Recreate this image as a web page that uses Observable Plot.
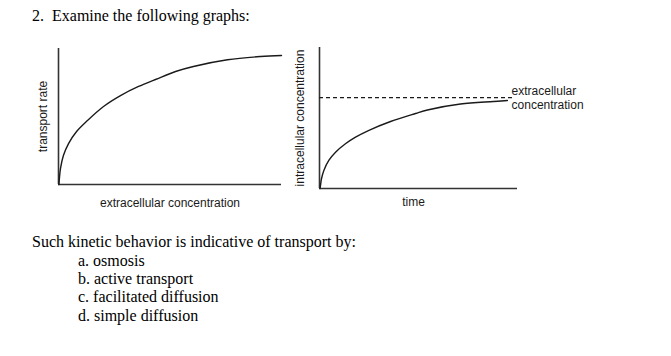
<!DOCTYPE html>
<html>
<head>
<meta charset="utf-8">
<script src="https://cdn.jsdelivr.net/npm/d3@7"></script>
<script src="https://cdn.jsdelivr.net/npm/@observablehq/plot@0.6"></script>
<style>
  html, body { margin: 0; padding: 0; background: #fff; }
  #root { position: relative; width: 671px; height: 356px; overflow: hidden; background: #fff; }
  .serif { font-family: "Liberation Serif", "Times New Roman", serif; font-size: 16px; line-height: 18.3px; color: #000; position: absolute; white-space: pre; }
  #title { left: 32px; top: 7.4px; }
  #question { left: 32px; top: 233.4px; }
  #question .item { margin-left: 46px; }
  .chart { position: absolute; }
  .chart svg { overflow: visible; }
</style>
</head>
<body>
<div id="root">
  <div id="title" class="serif"></div>
  <div id="left" class="chart" style="left:0px; top:40px;"></div>
  <div id="right" class="chart" style="left:285px; top:40px;"></div>
  <div id="question" class="serif"></div>
</div>
<script>
// ---- Data ----
// Left graph: transport rate vs extracellular concentration (arbitrary units 0-10)
const leftConc = [0.02, 0.04, 0.09, 0.22, 0.45, 0.81, 1.30, 2.02, 2.78, 3.59, 4.35, 5.25, 6.05, 7.58, 9.06, 10];
const leftRate = [0, 0.44, 1.18, 2.13, 3.01, 3.90, 4.71, 5.74, 6.54, 7.21, 7.72, 8.31, 8.68, 9.17, 9.41, 9.49];
// Right graph: intracellular concentration vs time (arbitrary units 0-10)
const rightTime = [0.03, 0.05, 0.10, 0.22, 0.47, 0.81, 1.31, 1.82, 2.47, 3.59, 4.85, 5.45, 7.12, 8.79, 9.49];
const rightConc = [0, 0.21, 0.69, 1.28, 1.99, 2.57, 3.17, 3.64, 4.11, 4.75, 5.32, 5.57, 5.99, 6.17, 6.24];
// Extracellular concentration reference level (dashed line)
const extracellularLevel = [6.45];
const dashedSpan = [0, 9.85];
const levelLabelAt = [9.7];
// Texts
const titleText = "2.  Examine the following graphs:";
const leftXLabel = ["extracellular concentration"];
const leftYLabel = ["transport rate"];
const rightXLabel = ["time"];
const rightYLabel = ["intracellular concentration"];
const levelLabel = ["extracellular\nconcentration"];
const questionText = "Such kinetic behavior is indicative of transport by:";
const choices = ["a. osmosis", "b. active transport", "c. facilitated diffusion", "d. simple diffusion"];

const sans = '"Liberation Sans", Arial, Helvetica, sans-serif';
const ink = "#1a1a1a";
const axisInk = "#333";

// ---- Left graph ----
const leftData = leftConc.map((x, i) => ({x, y: leftRate[i]}));
const leftPlot = Plot.plot({
  width: 290, height: 180,
  marginLeft: 58, marginRight: 9, marginTop: 8, marginBottom: 36,
  style: {fontFamily: sans, background: "transparent"},
  x: {domain: [0, 10], axis: null},
  y: {domain: [0, 10], axis: null},
  marks: [
    Plot.ruleX([0], {stroke: axisInk, strokeWidth: 1.6}),
    Plot.ruleY([0], {stroke: axisInk, strokeWidth: 1.6}),
    Plot.line(leftData, {x: "x", y: "y", curve: "catmull-rom", stroke: ink, strokeWidth: 1.4}),
    Plot.text(leftYLabel, {frameAnchor: "left", rotate: -90, dx: -15, fontSize: 12, fill: ink, textAnchor: "middle", lineAnchor: "middle"}),
    Plot.text(leftXLabel, {frameAnchor: "bottom", dy: 19, fontSize: 12, fill: ink, lineAnchor: "middle"})
  ]
});
document.getElementById("left").appendChild(leftPlot);

// ---- Right graph ----
const rightData = rightTime.map((x, i) => ({x, y: rightConc[i]}));
const dashData = [{x1: dashedSpan[0], x2: dashedSpan[1], y: extracellularLevel[0]}];
const labelData = [{x: levelLabelAt[0], y: extracellularLevel[0], t: levelLabel[0]}];
const rightPlot = Plot.plot({
  width: 320, height: 180,
  marginLeft: 34, marginRight: 88, marginTop: 7, marginBottom: 32,
  style: {fontFamily: sans, background: "transparent"},
  x: {domain: [0, 10], axis: null},
  y: {domain: [0, 10], axis: null},
  marks: [
    Plot.ruleX([0], {stroke: axisInk, strokeWidth: 1.6}),
    Plot.ruleY([0], {stroke: axisInk, strokeWidth: 1.6}),
    Plot.ruleY(dashData, {y: "y", x1: "x1", x2: "x2", stroke: ink, strokeWidth: 1.2, strokeDasharray: "4,3"}),
    Plot.line(rightData, {x: "x", y: "y", curve: "catmull-rom", stroke: ink, strokeWidth: 1.4}),
    Plot.text(labelData, {x: "x", y: "y", text: "t", textAnchor: "start", lineAnchor: "middle", lineHeight: 1.17, fontSize: 12, fill: ink}),
    Plot.text(rightYLabel, {frameAnchor: "left", rotate: -90, dx: -19, fontSize: 12, fill: ink, textAnchor: "middle", lineAnchor: "middle"}),
    Plot.text(rightXLabel, {frameAnchor: "bottom", dy: 14, dx: -5, fontSize: 12, fill: ink, lineAnchor: "middle"})
  ]
});
document.getElementById("right").appendChild(rightPlot);

// ---- Text blocks ----
document.getElementById("title").textContent = titleText;
const q = document.getElementById("question");
const qLine = document.createElement("div");
qLine.textContent = questionText;
q.appendChild(qLine);
for (const c of choices) {
  const d = document.createElement("div");
  d.className = "item";
  d.textContent = c;
  q.appendChild(d);
}
</script>
</body>
</html>
